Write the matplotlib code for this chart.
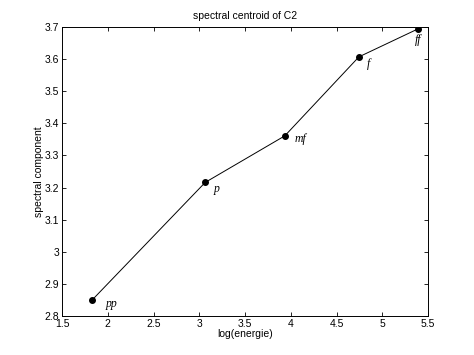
import matplotlib
matplotlib.use("Agg")
import matplotlib.pyplot as plt

x_vals = [1.83, 3.065, 3.935, 4.745, 5.39]
y_vals = [2.85, 3.216, 3.361, 3.607, 3.694]
labels = ["pp", "p", "mf", "f", "ff"]
label_offsets = [(10, -3), (6, -5), (7, -2), (6, -5), (-2, -8)]

xticks = [1.5, 2, 2.5, 3, 3.5, 4, 4.5, 5, 5.5]
yticks = [2.8, 2.9, 3, 3.1, 3.2, 3.3, 3.4, 3.5, 3.6, 3.7]

plt.rcParams['font.family'] = ['Liberation Sans', 'DejaVu Sans']
fig = plt.figure(figsize=(4.74, 3.55), dpi=100)
ax = fig.add_axes([62/474, 39/355, 366/474, 289/355])
ax.plot(x_vals, y_vals, color='black', linewidth=0.7, marker='o', markersize=4)
for x, y, lab, off in zip(x_vals, y_vals, labels, label_offsets):
    ax.annotate(lab, (x, y), xytext=off, textcoords='offset points',
                fontsize=8.5, fontstyle='italic', family='Liberation Serif',
                ha='left', va='center')
ax.set_xlim(1.5, 5.5)
ax.set_ylim(2.8, 3.7)
ax.set_xticks(xticks)
ax.set_xticklabels([f"{t:g}" for t in xticks])
ax.set_yticks(yticks)
ax.set_yticklabels([f"{t:g}" for t in yticks])
ax.tick_params(direction='in', top=True, right=True, labelsize=7.5, length=3, width=0.6, pad=2)
for s in ax.spines.values():
    s.set_linewidth(0.7)
ax.set_xlabel("log(energie)", fontsize=7.5, labelpad=0)
ax.set_ylabel("spectral component", fontsize=7.5, labelpad=0.5)
ax.set_title("spectral centroid of C2", fontsize=7.5, pad=6)
fig.savefig("out.png", dpi=100)
